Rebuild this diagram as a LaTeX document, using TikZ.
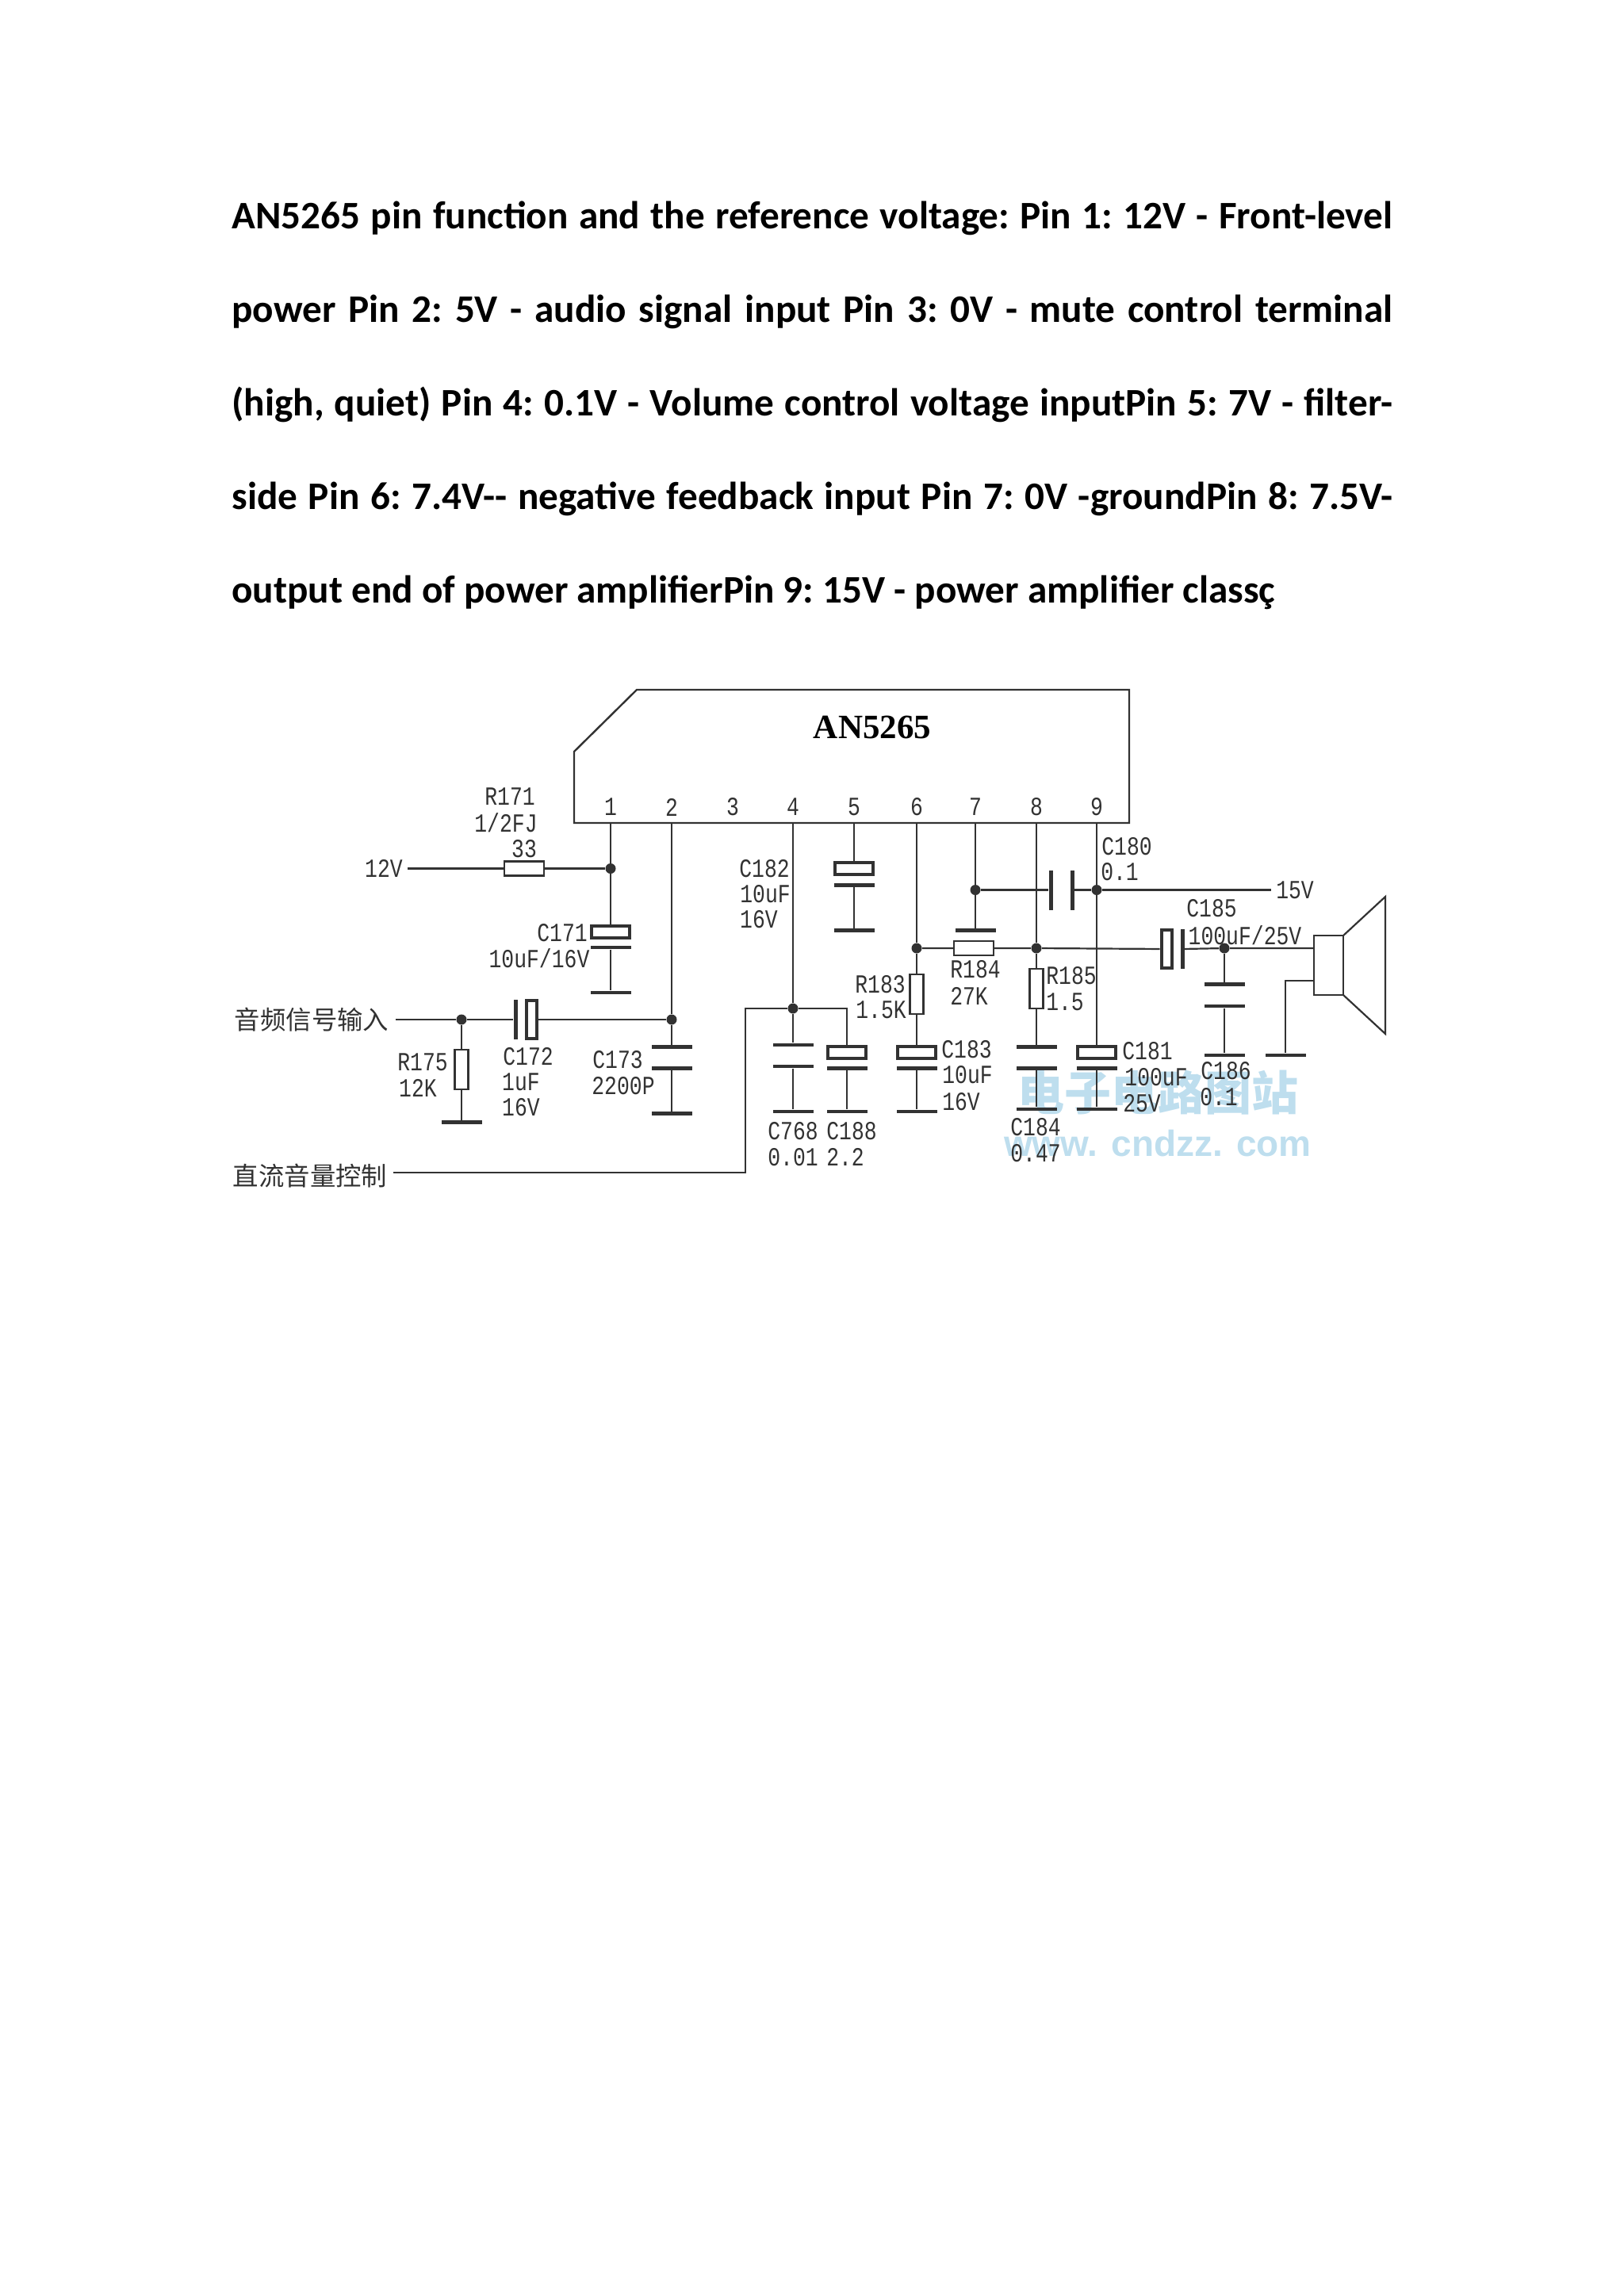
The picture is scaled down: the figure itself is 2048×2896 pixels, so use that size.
\documentclass[tikz,border=0pt]{standalone}
\usepackage{fontspec}
\setmainfont{Liberation Serif}
\newfontfamily\pagefont{Carlito}
\newfontfamily\schfont[FakeStretch=0.8]{Liberation Mono}
\newfontfamily\cjkfont{Noto Sans CJK SC}
\newfontfamily\markfont{Liberation Sans}
\usetikzlibrary{positioning}
\definecolor{wirecol}{RGB}{50,50,50}
\definecolor{markblue}{RGB}{190,222,238}
\tikzset{
    wire/.style={draw=wirecol, line width=1.1pt},
    dot/.style={circle, fill=wirecol, minimum size=6.5pt, inner sep=0pt},
    plate/.style={fill=wirecol, minimum width=25.5pt, minimum height=2.2pt, inner sep=0pt},
    vplate/.style={fill=wirecol, minimum width=2.5pt, minimum height=25pt, inner sep=0pt},
    polbox/.style={draw=wirecol, line width=2pt, fill=white, minimum width=24pt, minimum height=7.5pt, inner sep=0pt},
    vpolbox/.style={draw=wirecol, line width=2pt, fill=white, minimum width=6.5pt, minimum height=24pt, inner sep=0pt},
    resh/.style={draw=wirecol, line width=1.1pt, fill=white, minimum width=25pt, minimum height=9pt, inner sep=0pt},
    resv/.style={draw=wirecol, line width=1.1pt, fill=white, minimum width=8.5pt, minimum height=25pt, inner sep=0pt},
    lbl/.style={inner sep=0pt, text=wirecol, font=\fontsize{16.5}{17}\selectfont\schfont},
    netlbl/.style={lbl, inner xsep=3pt},
    cjklbl/.style={inner ysep=0pt, inner xsep=4pt, text=wirecol, font=\fontsize{16.2}{17}\selectfont\cjkfont},
}
\begin{document}
\begin{tikzpicture}[x=0.5pt, y=-0.5pt]
    \useasboundingbox (0,0) rectangle (2048,2896);

    % page text
    \node[anchor=north west, inner sep=0pt, text width=732pt, align=justify, font=\fontsize{24.6}{59}\pagefont\bfseries] (pagetext) at (292,254) {\frenchspacing\tolerance=9999\emergencystretch=20pt
    AN5265 pin function and the reference voltage: Pin 1: 12V - Front-level\linebreak
    power Pin 2: 5V - audio signal input Pin 3: 0V - mute control terminal\linebreak
    (high, quiet) Pin 4: 0.1V - Volume control voltage inputPin 5: 7V - filter-\linebreak
    side Pin 6: 7.4V{-}{-} negative feedback input Pin 7: 0V -groundPin 8: 7.5V-\linebreak
    output end of power amplifierPin 9: 15V - power amplifier classç};

    % watermark
    \node[inner sep=0pt, text=markblue, font=\fontsize{29.5}{30}\selectfont\cjkfont\bfseries] (markcn) at (1460,1378) {电子电路图站};
    \node[inner sep=0pt, text=markblue, font=\fontsize{23}{24}\selectfont\markfont\bfseries] (markweb) at (1460,1442) {www. cndzz. com};

    % the chip
    \draw[wire, line width=1.2pt] (724,948) -- (803,870) -- (1424,870) -- (1424,1038) -- (724,1038) -- cycle;
    \node[inner sep=0pt, text=black, font=\fontsize{21.5}{22}\selectfont\bfseries] (chipname) at (1100,917) {AN5265};
    \foreach \n/\x in {1/770,2/847,3/924,4/1000,5/1077,6/1156,7/1230,8/1307,9/1383} {
        \coordinate (pin\n) at (\x,1038);
        \node[lbl] (num\n) at (\x,1018) {\n};
    }

    % junctions
    \node[dot] (j12v) at (770,1095.5) {};
    \node[dot] (jin) at (582,1286) {};
    \node[dot] (jpin2) at (847,1286) {};
    \node[dot] (jpin4) at (1000,1272) {};
    \node[dot] (jpin6) at (1156,1196) {};
    \node[dot] (jpin7) at (1230,1122.5) {};
    \node[dot] (jpin8) at (1307,1196) {};
    \node[dot] (jpin9) at (1383,1122.5) {};
    \node[dot] (jout) at (1544,1196) {};

    % parts
    \node[resh] (r171) at (661,1095.5) {};
    \node[polbox] (c171p) at (770,1175) {};
    \node[plate] (c171m) at (770,1195) {};
    \node[plate] (gnd171) at (770,1252) {};

    \node[vplate] (c172m) at (650,1286) {};
    \node[vpolbox] (c172p) at (670,1286) {};
    \node[resv] (r175) at (582,1349) {};
    \node[plate] (gnd175) at (582,1415.5) {};

    \node[plate] (c173a) at (847,1320.5) {};
    \node[plate] (c173b) at (847,1347.5) {};
    \node[plate] (gnd173) at (847,1404.5) {};

    \node[plate] (c768a) at (1000,1318) {};
    \node[plate] (c768b) at (1000,1345) {};
    \node[plate] (gnd768) at (1000,1402) {};

    \node[polbox] (c188p) at (1068,1327.5) {};
    \node[plate] (c188m) at (1068,1347.5) {};
    \node[plate] (gnd188) at (1068,1402) {};

    \node[polbox] (c182p) at (1077,1095.5) {};
    \node[plate] (c182m) at (1077,1116.5) {};
    \node[plate] (gnd182) at (1077,1173.5) {};

    \node[resv] (r183) at (1156,1254) {};
    \node[polbox] (c183p) at (1156,1327.5) {};
    \node[plate] (c183m) at (1156,1347.5) {};
    \node[plate] (gnd183) at (1156,1402) {};

    \node[plate] (gnd7) at (1230,1173.5) {};
    \node[resh] (r184) at (1228,1196) {};

    \node[resv] (r185) at (1307,1247) {};
    \node[plate] (c184a) at (1307,1320.5) {};
    \node[plate] (c184b) at (1307,1347.5) {};
    \node[plate] (gnd184) at (1307,1399) {};

    \node[polbox] (c181p) at (1383,1327.5) {};
    \node[plate] (c181m) at (1383,1347.5) {};
    \node[plate] (gnd181) at (1383,1399) {};

    \node[vplate] (c180a) at (1325,1122.5) {};
    \node[vplate] (c180b) at (1352,1122.5) {};

    \node[vpolbox] (c185p) at (1471,1197) {};
    \node[vplate] (c185m) at (1491,1197) {};

    \node[plate] (c186a) at (1544,1241.5) {};
    \node[plate] (c186b) at (1544,1269) {};
    \node[plate] (gnd186) at (1544,1331) {};

    \node[plate] (gndspk) at (1621,1331) {};
    \coordinate (spkin) at (1657,1196);
    \coordinate (spkgnd) at (1657,1237);
    \coordinate (spkbend) at (1621,1237);
    \coordinate (volstart) at (496,1479);
    \coordinate (volbend) at (940,1479);
    \coordinate (voltop) at (940,1272);
    \coordinate (c188top) at (1068,1272);

    % speaker
    \draw[wire, fill=white] (1657,1180) rectangle (1694,1255);
    \draw[wire] (1694,1180) -- (1747,1131) -- (1747,1304) -- (1694,1255);

    % net labels
    \node[netlbl] (v12) at (484,1095.5) {12V};
    \node[netlbl] (v15) at (1633,1122.5) {15V};
    \node[cjklbl] (audioin) at (393,1286) {音频信号输入};
    \node[cjklbl] (volctl) at (391,1483) {直流音量控制};

    % wires
    \draw[wire] (v12) -- (r171);
    \draw[wire] (r171) -- (j12v);
    \draw[wire] (pin1) -- (j12v) -- (c171p);
    \draw[wire] (c171m) -- (gnd171);
    \draw[wire] (audioin) -- (jin) -- (c172m);
    \draw[wire] (c172p) -- (jpin2);
    \draw[wire] (jin) -- (r175) -- (gnd175);
    \draw[wire] (pin2) -- (jpin2) -- (c173a);
    \draw[wire] (c173b) -- (gnd173);
    \draw[wire] (pin4) -- (jpin4) -- (c768a);
    \draw[wire] (c768b) -- (gnd768);
    \draw[wire] (volstart) -- (volbend) -- (voltop) -- (jpin4) -- (c188top) -- (c188p);
    \draw[wire] (c188m) -- (gnd188);
    \draw[wire] (pin5) -- (c182p);
    \draw[wire] (c182m) -- (gnd182);
    \draw[wire] (pin6) -- (jpin6) -- (r183) -- (c183p);
    \draw[wire] (c183m) -- (gnd183);
    \draw[wire] (pin7) -- (jpin7) -- (gnd7);
    \draw[wire] (jpin6) -- (r184) -- (jpin8) -- (c185p);
    \draw[wire] (pin8) -- (jpin8) -- (r185) -- (c184a);
    \draw[wire] (c184b) -- (gnd184);
    \draw[wire] (jpin7) -- (c180a);
    \draw[wire] (c180b) -- (jpin9) -- (v15);
    \draw[wire] (pin9) -- (jpin9) -- (c181p);
    \draw[wire] (c181m) -- (gnd181);
    \draw[wire] (c185m) -- (jout) -- (spkin);
    \draw[wire] (jout) -- (c186a);
    \draw[wire] (c186b) -- (gnd186);
    \draw[wire] (spkgnd) -- (spkbend) -- (gndspk);

    % part labels
    \node[lbl] (tr171) at (643,1005) {R171};
    \node[lbl] (tr171b) at (638,1038) {1/2FJ};
    \node[lbl] (tr171c) at (661,1071) {33};
    \node[lbl] (tc171) at (709,1177) {C171};
    \node[lbl] (tc171b) at (680,1209) {10uF/16V};
    \node[lbl] (tr175) at (533,1340) {R175};
    \node[lbl] (tr175b) at (527,1372) {12K};
    \node[lbl] (tc172) at (666,1333) {C172};
    \node[lbl] (tc172b) at (657,1365) {1uF};
    \node[lbl] (tc172c) at (657,1397) {16V};
    \node[lbl] (tc173) at (779,1337) {C173};
    \node[lbl] (tc173b) at (786,1370) {2200P};
    \node[lbl] (tc182) at (964,1095.5) {C182};
    \node[lbl] (tc182b) at (965,1128) {10uF};
    \node[lbl] (tc182c) at (957,1160) {16V};
    \node[lbl] (tc768) at (1000,1427) {C768};
    \node[lbl] (tc768b) at (1000,1459.5) {0.01};
    \node[lbl] (tc188) at (1074,1427) {C188};
    \node[lbl] (tc188b) at (1066,1459.5) {2.2};
    \node[lbl] (tr183) at (1110,1242) {R183};
    \node[lbl] (tr183b) at (1111,1274) {1.5K};
    \node[lbl] (tr184) at (1230,1223) {R184};
    \node[lbl] (tr184b) at (1222,1256.5) {27K};
    \node[lbl] (tr185) at (1351,1231) {R185};
    \node[lbl] (tr185b) at (1343,1263.5) {1.5};
    \node[lbl] (tc183) at (1219,1324) {C183};
    \node[lbl] (tc183b) at (1220,1356) {10uF};
    \node[lbl] (tc183c) at (1212,1389.5) {16V};
    \node[lbl] (tc184) at (1306,1422) {C184};
    \node[lbl] (tc184b) at (1306,1455) {0.47};
    \node[lbl] (tc181) at (1447,1325.5) {C181};
    \node[lbl] (tc181b) at (1458,1359) {100uF};
    \node[lbl] (tc181c) at (1440,1392) {25V};
    \node[lbl] (tc186) at (1546,1351) {C186};
    \node[lbl] (tc186b) at (1537,1383.5) {0.1};
    \node[lbl] (tc185) at (1528,1146) {C185};
    \node[lbl] (tc185b) at (1570,1179.5) {100uF/25V};
    \node[lbl] (tc180) at (1421,1067.5) {C180};
    \node[lbl] (tc180b) at (1412,1100) {0.1};
\end{tikzpicture}
\end{document}
